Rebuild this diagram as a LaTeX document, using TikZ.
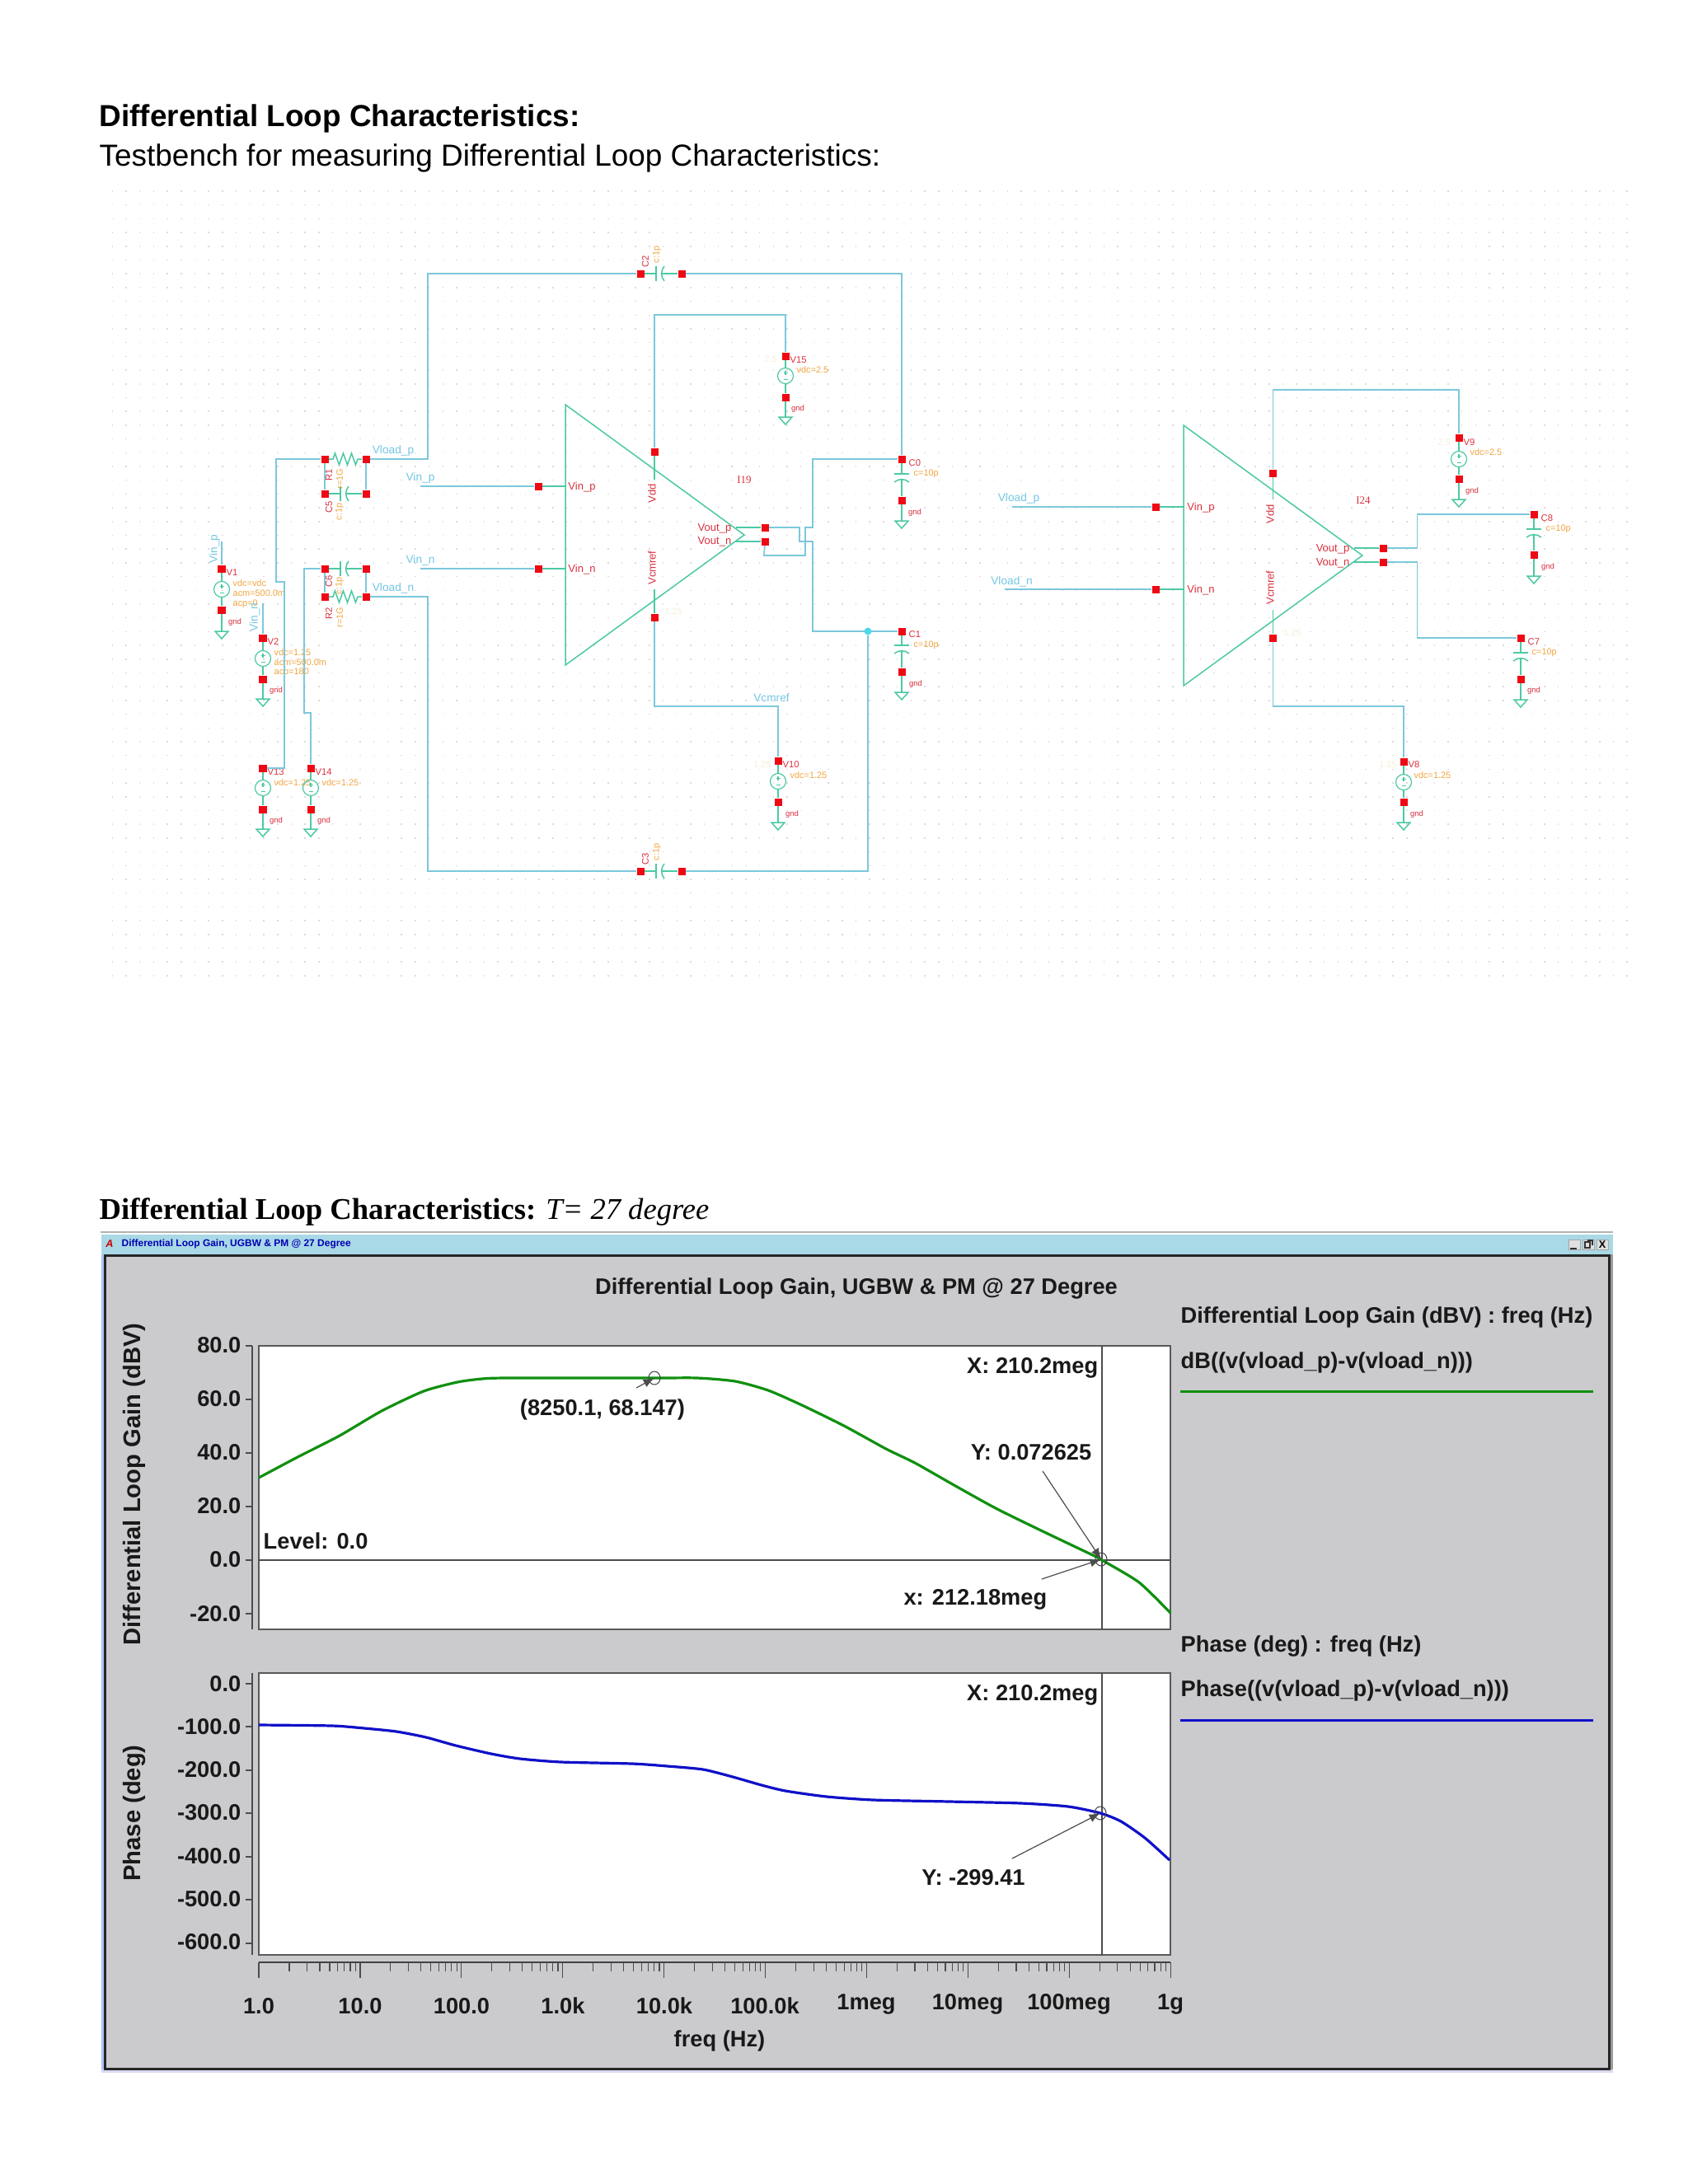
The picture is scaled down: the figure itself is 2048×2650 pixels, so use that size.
\documentclass[tikz,border=0pt]{standalone}
\usepackage{fontspec}
\setmainfont{Liberation Sans}
\newfontfamily\timesfont{Liberation Serif}
\definecolor{wirecol}{HTML}{7CC8DC}
\definecolor{partcol}{HTML}{4CC9A4}
\definecolor{pincol}{HTML}{EE0A14}
\definecolor{namecol}{HTML}{D9303F}
\definecolor{valcol}{HTML}{F2A640}
\definecolor{netcol}{HTML}{74C6E4}
\definecolor{opcol}{HTML}{F6F0DA}
\definecolor{barcol}{HTML}{A9D8E6}
\definecolor{panelcol}{HTML}{CBCACD}
\definecolor{gaincol}{HTML}{109010}
\definecolor{phasecol}{HTML}{1010C8}
\tikzset{
	wire/.style={wirecol, line width=0.017cm},
	part/.style={partcol, line width=0.015cm},
	griddots/.style={black!14, line width=0.015cm, dash pattern=on 0.015cm off 0.152cm},
	pinbox/.style={rectangle, fill=pincol, minimum size=0.09cm, inner sep=0pt},
	srcnode/.style={circle, draw=partcol, line width=0.12mm, minimum size=0.19cm, inner sep=0pt},
	netlbl/.style={netcol, font=\fontsize{3.9}{4}\selectfont, inner sep=0pt},
	pinlbl/.style={namecol, font=\fontsize{3.7}{4}\selectfont, inner sep=0pt},
	namelbl/.style={namecol, font=\fontsize{3.2}{4}\selectfont, inner sep=0pt},
	vallbl/.style={valcol, font=\fontsize{3.1}{4}\selectfont, inner sep=0pt},
	gndlbl/.style={namecol, font=\fontsize{2.7}{3}\selectfont, inner sep=0pt},
	oplbl/.style={opcol, font=\fontsize{3.1}{4}\selectfont, inner sep=0pt},
	headlbl/.style={anchor=west, inner sep=0pt, font=\fontsize{10.5}{12}\selectfont},
	plotlbl/.style={font=\fontsize{7.75}{9}\bfseries\selectfont, inner sep=0pt, text=black!90},
	ticklbl/.style={plotlbl, anchor=east},
	axislbl/.style={font=\fontsize{8.3}{9}\bfseries\selectfont, inner sep=0pt, text=black!90, rotate=90},
	plotframe/.style={draw=black!65, line width=0.02cm, fill=white},
	thinline/.style={black!70, line width=0.012cm},
	marker/.style={ellipse, draw=black!75, line width=0.01cm, minimum width=0.14cm, minimum height=0.16cm, inner sep=0pt},
	btnbox/.style={rectangle, fill=black!12, draw=black!35, line width=0.01cm, minimum width=0.14cm, minimum height=0.12cm, inner sep=0pt},
}
\usetikzlibrary{shapes.geometric}
\newcommand{\srcsym}[3]{
	\node[srcnode] (#1) at (#2,#3) {};
	\draw[part] (#1) ++(-2.5,-3.5) -- ++(5,0) ++(-2.5,-2.5) -- ++(0,5) (#1) ++(-2.5,4.5) -- ++(5,0);
}
\newcommand{\gndsym}[3]{
	\coordinate (#1) at (#2,#3);
	\draw[part] (#1) ++(-8,0) -- ++(16,0) -- ++(-8,9) -- cycle;
}
\newcommand{\capv}[3]{
	\coordinate (#1top) at (#2,#3);
	\coordinate (#1bot) at (#2,#3+7);
	\draw[part] (#1top) ++(-9,0) -- ++(18,0);
	\draw[part] (#1top) ++(-9,10) to[bend left=40] ++(18,0);
}
\newcommand{\caph}[3]{
	\coordinate (#1top) at (#2,#3);
	\coordinate (#1bot) at (#2+7,#3);
	\draw[part] (#1top) ++(0,-9) -- ++(0,18);
	\draw[part] (#1top) ++(10,9) to[bend left=40] ++(0,-18);
}
\newcommand{\zigpart}{-- ++(10,0) -- ++(2.5,-7) -- ++(5,14) -- ++(5,-14) -- ++(5,14) -- ++(5,-14) -- ++(5,14) -- ++(2.5,-7)}
\begin{document}
\begin{tikzpicture}[x=0.01cm,y=-0.01cm]
	\useasboundingbox (0,0) rectangle (2048,2650);
	\fill[white] (0,0) rectangle (2048,2650);

	\node[headlbl, font=\fontsize{10.5}{12}\bfseries\selectfont] (title1) at (120,144) {Differential Loop Characteristics:};
	\node[headlbl] (title2) at (120,192) {Testbench for measuring Differential Loop Characteristics:};
	\node[headlbl, font=\fontsize{10.4}{12}\timesfont\selectfont] (title3) at (120,1470) {\textbf{Differential Loop Characteristics:} \textit{T= 27 degree}};

	\foreach \row in {0,...,57}
		\draw[griddots] (135.5,232+\row*16.7) -- (1975,232+\row*16.7);

	\node[pinbox] (r1a) at (394,557) {};
	\node[pinbox] (r1b) at (444,557) {};
	\node[pinbox] (c5a) at (394,599) {};
	\node[pinbox] (c5b) at (444,599) {};
	\node[pinbox] (c6a) at (394,690) {};
	\node[pinbox] (c6b) at (444,690) {};
	\node[pinbox] (r2a) at (394,724) {};
	\node[pinbox] (r2b) at (444,724) {};
	\draw[part] (r1a) \zigpart -- (r1b);
	\draw[part] (r2a) \zigpart -- (r2b);
	\caph{c5}{413}{599}
	\caph{c6}{413}{690}
	\draw[part] (c5a) -- (c5top);
	\draw[part] (c5bot) -- (c5b);
	\draw[part] (c6a) -- (c6top);
	\draw[part] (c6bot) -- (c6b);
	\draw[wire] (r1a) -- (c5a);
	\draw[wire] (r1b) -- (c5b);
	\draw[wire] (c6a) -- (r2a);
	\draw[wire] (c6b) -- (r2b);
	\node[namelbl, rotate=90] (r1name) at (399,576) {R1};
	\node[vallbl, rotate=90] (r1val) at (412,581) {r=1G};
	\node[namelbl, rotate=90] (c5name) at (399,615) {C5};
	\node[vallbl, rotate=90] (c5val) at (412,621) {c:1p};
	\node[namelbl, rotate=90] (c6name) at (399,705) {C6};
	\node[vallbl, rotate=90] (c6val) at (412,711) {c:1p};
	\node[namelbl, rotate=90] (r2name) at (399,744) {R2};
	\node[vallbl, rotate=90] (r2val) at (412,749) {r=1G};
	\node[netlbl] (vloadp) at (477,547) {Vload\_p};
	\node[netlbl] (vloadn) at (477,714) {Vload\_n};

	\node[pinbox] (v1a) at (269,690) {};
	\node[pinbox] (v1b) at (269,740) {};
	\coordinate (v1stub) at (269,657);
	\srcsym{v1s}{269}{715}
	\gndsym{v1g}{269}{766}
	\draw[wire] (v1stub) -- (v1a);
	\draw[part] (v1a) -- (v1s);
	\draw[part] (v1s) -- (v1b);
	\draw[part] (v1b) -- (v1g);
	\node[netlbl, rotate=90] (v1net) at (260,666) {Vin\_p};
	\node[namelbl, anchor=west] (v1name) at (274,695) {V1};
	\node[vallbl, anchor=west] (v1vdc) at (282,708) {vdc=vdc};
	\node[vallbl, anchor=west] (v1acm) at (282,720) {acm=500.0m};
	\node[vallbl, anchor=west] (v1acp) at (282,733) {acp=0};
	\node[gndlbl] (v1gnd) at (285,755) {gnd};

	\node[pinbox] (v2a) at (319,774) {};
	\node[pinbox] (v2b) at (319,824) {};
	\coordinate (v2stub) at (319,732);
	\srcsym{v2s}{319}{799}
	\gndsym{v2g}{319}{848}
	\draw[wire] (v2stub) -- (v2a);
	\draw[part] (v2a) -- (v2s);
	\draw[part] (v2s) -- (v2b);
	\draw[part] (v2b) -- (v2g);
	\node[netlbl, rotate=90] (v2net) at (309,749) {Vin\_n};
	\node[namelbl, anchor=west] (v2name) at (324,779) {V2};
	\node[vallbl, anchor=west] (v2vdc) at (332,792) {vdc=1.25};
	\node[vallbl, anchor=west] (v2acm) at (332,804) {acm=500.0m};
	\node[vallbl, anchor=west] (v2acp) at (332,816) {acp=180};
	\node[gndlbl] (v2gnd) at (335,838) {gnd};

	\node[pinbox] (v13a) at (319,932) {};
	\node[pinbox] (v13b) at (319,982) {};
	\srcsym{v13s}{319}{956}
	\gndsym{v13g}{319}{1006}
	\draw[part] (v13a) -- (v13s);
	\draw[part] (v13s) -- (v13b);
	\draw[part] (v13b) -- (v13g);
	\node[namelbl, anchor=west] (v13name) at (324,937) {V13};
	\node[vallbl, anchor=west] (v13vdc) at (332,950) {vdc=1.25};
	\node[gndlbl] (v13gnd) at (335,996) {gnd};

	\node[pinbox] (v14a) at (377,932) {};
	\node[pinbox] (v14b) at (377,982) {};
	\srcsym{v14s}{377}{956}
	\gndsym{v14g}{377}{1006}
	\draw[part] (v14a) -- (v14s);
	\draw[part] (v14s) -- (v14b);
	\draw[part] (v14b) -- (v14g);
	\node[namelbl, anchor=west] (v14name) at (382,937) {V14};
	\node[vallbl, anchor=west] (v14vdc) at (390,950) {vdc=1.25};
	\node[gndlbl] (v14gnd) at (393,996) {gnd};

	\draw[wire] (r1a) -- (335,557) -- (335,706) -- (345,706) -- (345,932) -- (v13a);
	\draw[wire] (c6a) -- (369,690) -- (369,865) -- (377,865) -- (v14a);

	\draw[part] (686,491) -- (903,649) -- (686,807) -- cycle;
	\node[pinbox] (vinp) at (653,590) {};
	\node[pinbox] (vinn) at (653,690) {};
	\node[pinbox] (vdd) at (794,548) {};
	\node[pinbox] (vcm) at (794,749) {};
	\node[pinbox] (voutp) at (928,640) {};
	\node[pinbox] (voutn) at (928,657) {};
	\coordinate (vinpw) at (510,590);
	\coordinate (vinnw) at (510,690);
	\draw[wire] (vinpw) -- (vinp);
	\draw[wire] (vinnw) -- (vinn);
	\draw[part] (vinp) -- (686,590);
	\draw[part] (vinn) -- (686,690);
	\draw[part] (vdd) -- (794,582);
	\draw[part] (vcm) -- (794,715);
	\draw[part] (voutp) -- (893,640);
	\draw[part] (voutn) -- (893,657);
	\node[netlbl] (vinpnet) at (510,580) {Vin\_p};
	\node[netlbl] (vinnnet) at (510,680) {Vin\_n};
	\node[pinlbl] (vinplbl) at (706,591) {Vin\_p};
	\node[pinlbl] (vinnlbl) at (706,691) {Vin\_n};
	\node[pinlbl, rotate=90] (vddlbl) at (791,599) {Vdd};
	\node[pinlbl, rotate=90] (vcmlbl) at (791,689) {Vcmref};
	\node[pinlbl] (voutplbl) at (867,641) {Vout\_p};
	\node[pinlbl] (voutnlbl) at (867,657) {Vout\_n};
	\node[pinlbl, font=\fontsize{3.7}{4}\timesfont\selectfont] (i19) at (903,582) {I19};
	\node[oplbl] (vcmop) at (817,742) {1.25};

	\node[pinbox] (v15a) at (953,432) {};
	\node[pinbox] (v15b) at (953,482) {};
	\srcsym{v15s}{953}{456}
	\gndsym{v15g}{953}{506}
	\draw[wire] (vdd) -- (794,382) -- (953,382) -- (v15a);
	\draw[part] (v15a) -- (v15s);
	\draw[part] (v15s) -- (v15b);
	\draw[part] (v15b) -- (v15g);
	\node[namelbl, anchor=west] (v15name) at (958,437) {V15};
	\node[vallbl, anchor=west] (v15vdc) at (966,449) {vdc=2.5};
	\node[gndlbl] (v15gnd) at (968,496) {gnd};
	\node[oplbl] (v15op) at (935,436) {2.5};

	\node[pinbox] (v10a) at (944,923) {};
	\node[pinbox] (v10b) at (944,973) {};
	\srcsym{v10s}{944}{948}
	\gndsym{v10g}{944}{998}
	\draw[wire] (vcm) -- (794,857) -- (944,857) -- (v10a);
	\draw[part] (v10a) -- (v10s);
	\draw[part] (v10s) -- (v10b);
	\draw[part] (v10b) -- (v10g);
	\node[netlbl] (vcmnet) at (936,847) {Vcmref};
	\node[namelbl, anchor=west] (v10name) at (949,928) {V10};
	\node[vallbl, anchor=west] (v10vdc) at (958,941) {vdc=1.25};
	\node[gndlbl] (v10gnd) at (961,988) {gnd};
	\node[oplbl] (v10op) at (925,928) {1.25};

	\node[pinbox] (c0a) at (1094,557) {};
	\node[pinbox] (c0c) at (1094,607) {};
	\capv{c0}{1094}{575}
	\gndsym{c0g}{1094}{632}
	\draw[part] (c0a) -- (c0top);
	\draw[part] (c0bot) -- (c0c);
	\draw[part] (c0c) -- (c0g);
	\node[namelbl, anchor=west] (c0name) at (1102,562) {C0};
	\node[vallbl, anchor=west] (c0val) at (1108,575) {c=10p};
	\node[gndlbl] (c0gnd) at (1110,622) {gnd};

	\node[pinbox] (c1a) at (1094,766) {};
	\node[pinbox] (c1c) at (1094,815) {};
	\capv{c1}{1094}{783}
	\gndsym{c1g}{1094}{840}
	\draw[part] (c1a) -- (c1top);
	\draw[part] (c1bot) -- (c1c);
	\draw[part] (c1c) -- (c1g);
	\node[namelbl, anchor=west] (c1name) at (1102,770) {C1};
	\node[vallbl, anchor=west] (c1val) at (1108,783) {c=10p};
	\node[gndlbl] (c1gnd) at (1111,830) {gnd};

	\draw[wire] (voutn) -- (927,674) -- (977,674) -- (977,640) -- (986,640) -- (986,557) -- (c0a);
	\draw[wire] (voutp) -- (970,640) -- (970,657) -- (986,657) -- (986,766) -- (c1a);

	\node[pinbox] (c2a) at (777,332) {};
	\node[pinbox] (c2b) at (827,332) {};
	\caph{c2}{796}{332}
	\draw[part] (c2a) -- (c2top);
	\draw[part] (c2bot) -- (c2b);
	\draw[wire] (r1b) -- (519,557) -- (519,332) -- (c2a);
	\draw[wire] (c2b) -- (1094,332) -- (c0a);
	\node[namelbl, rotate=90] (c2name) at (783,317) {C2};
	\node[vallbl, rotate=90] (c2val) at (797,309) {c:1p};

	\node[pinbox] (c3a) at (777,1057) {};
	\node[pinbox] (c3b) at (827,1057) {};
	\caph{c3}{796}{1057}
	\draw[part] (c3a) -- (c3top);
	\draw[part] (c3bot) -- (c3b);
	\node[circle, fill=netcol!70!cyan, minimum size=0.09cm, inner sep=0pt] (jn) at (1053,766) {};
	\draw[wire] (r2b) -- (519,724) -- (519,1057) -- (c3a);
	\draw[wire] (c3b) -- (1053,1057) -- (jn);
	\node[namelbl, rotate=90] (c3name) at (783,1042) {C3};
	\node[vallbl, rotate=90] (c3val) at (797,1034) {c:1p};

	\draw[part] (1436,516) -- (1653,674) -- (1436,832) -- cycle;
	\node[pinbox] (rvinp) at (1402,615) {};
	\node[pinbox] (rvinn) at (1402,715) {};
	\node[pinbox] (rvdd) at (1544.5,574) {};
	\node[pinbox] (rvcm) at (1544.5,774) {};
	\node[pinbox] (rvoutp) at (1678,665) {};
	\node[pinbox] (rvoutn) at (1678,682) {};
	\coordinate (rvinpw) at (1227.5,615);
	\coordinate (rvinnw) at (1219,715);
	\draw[wire] (rvinpw) -- (rvinp);
	\draw[wire] (rvinnw) -- (rvinn);
	\draw[part] (rvinp) -- (1436,615);
	\draw[part] (rvinn) -- (1436,715);
	\draw[part] (rvdd) -- (1544.5,606);
	\draw[part] (rvcm) -- (1544.5,740);
	\draw[part] (rvoutp) -- (1643,665);
	\draw[part] (rvoutn) -- (1643,682);
	\node[netlbl] (rvloadp) at (1236,605) {Vload\_p};
	\node[netlbl] (rvloadn) at (1227.5,706) {Vload\_n};
	\node[pinlbl] (rvinplbl) at (1457,616) {Vin\_p};
	\node[pinlbl] (rvinnlbl) at (1457,716) {Vin\_n};
	\node[pinlbl, rotate=90] (rvddlbl) at (1541,624) {Vdd};
	\node[pinlbl, rotate=90] (rvcmlbl) at (1541,713) {Vcmref};
	\node[pinlbl] (rvoutplbl) at (1617,666) {Vout\_p};
	\node[pinlbl] (rvoutnlbl) at (1617,683) {Vout\_n};
	\node[pinlbl, font=\fontsize{3.7}{4}\timesfont\selectfont] (i24) at (1654,607) {I24};
	\node[oplbl] (rvcmop) at (1568,768) {1.25};

	\node[pinbox] (v9a) at (1770,531) {};
	\node[pinbox] (v9b) at (1770,581) {};
	\srcsym{v9s}{1770}{557}
	\gndsym{v9g}{1770}{606}
	\draw[wire] (rvdd) -- (1544.5,473) -- (1770,473) -- (v9a);
	\draw[part] (v9a) -- (v9s);
	\draw[part] (v9s) -- (v9b);
	\draw[part] (v9b) -- (v9g);
	\node[namelbl, anchor=west] (v9name) at (1775,537) {V9};
	\node[vallbl, anchor=west] (v9vdc) at (1783,549) {vdc=2.5};
	\node[gndlbl] (v9gnd) at (1786,596) {gnd};
	\node[oplbl] (v9op) at (1752,537) {2.5};

	\node[pinbox] (v8a) at (1703,924) {};
	\node[pinbox] (v8b) at (1703,973) {};
	\srcsym{v8s}{1703}{949}
	\gndsym{v8g}{1703}{998}
	\draw[wire] (rvcm) -- (1544.5,857) -- (1703,857) -- (v8a);
	\draw[part] (v8a) -- (v8s);
	\draw[part] (v8s) -- (v8b);
	\draw[part] (v8b) -- (v8g);
	\node[namelbl, anchor=west] (v8name) at (1708,928) {V8};
	\node[vallbl, anchor=west] (v8vdc) at (1715,941) {vdc=1.25};
	\node[gndlbl] (v8gnd) at (1719,988) {gnd};
	\node[oplbl] (v8op) at (1684,928) {1.25};

	\node[pinbox] (c8a) at (1861,624) {};
	\node[pinbox] (c8c) at (1861,673) {};
	\capv{c8}{1861}{642}
	\gndsym{c8g}{1861}{699}
	\draw[part] (c8a) -- (c8top);
	\draw[part] (c8bot) -- (c8c);
	\draw[part] (c8c) -- (c8g);
	\draw[wire] (rvoutp) -- (1719.5,665) -- (1719.5,624) -- (c8a);
	\node[namelbl, anchor=west] (c8name) at (1869,629) {C8};
	\node[vallbl, anchor=west] (c8val) at (1875,642) {c=10p};
	\node[gndlbl] (c8gnd) at (1878,688) {gnd};

	\node[pinbox] (c7a) at (1845,774) {};
	\node[pinbox] (c7c) at (1845,824) {};
	\capv{c7}{1845}{792}
	\gndsym{c7g}{1845}{849}
	\draw[part] (c7a) -- (c7top);
	\draw[part] (c7bot) -- (c7c);
	\draw[part] (c7c) -- (c7g);
	\draw[wire] (rvoutn) -- (1719.5,682) -- (1719.5,774) -- (c7a);
	\node[namelbl, anchor=west] (c7name) at (1853,779) {C7};
	\node[vallbl, anchor=west] (c7val) at (1858,792) {c=10p};
	\node[gndlbl] (c7gnd) at (1861,838) {gnd};

	\draw[black!30, line width=0.012cm] (122,1495) -- (1957,1495);
	\fill[barcol] (123,1498) rectangle (1957,1522);
	\fill[barcol!70!blue!60] (123,1522) rectangle (126,2513);
	\fill[black!40] (1952,1522) rectangle (1957,2515);
	\fill[black!35!blue!15!white] (123,2511) rectangle (1957,2515);
	\draw[black!85, line width=0.03cm, fill=panelcol] (127,1523) rectangle (1952,2510);
	\node[font=\fontsize{3.6}{4}\bfseries\itshape\selectfont, text=red!80!black, inner sep=0pt] (appicon) at (133,1509) {A};
	\node[font=\fontsize{3.4}{4}\bfseries\selectfont, text=blue!70!black, anchor=west, inner sep=0pt] (wintitle) at (147,1509) {Differential Loop Gain, UGBW \& PM @ 27 Degree};
	\node[btnbox] (btnmin) at (1910,1510) {};
	\node[btnbox] (btnmax) at (1927,1510) {};
	\node[btnbox, font=\fontsize{3.6}{4}\bfseries\selectfont] (btnclose) at (1944,1510) {X};
	\draw[black!80, line width=0.02cm] (1905,1514.5) -- (1913,1514.5);
	\draw[black!80, line width=0.012cm] (1923,1507) rectangle (1929,1514);
	\draw[black!80, line width=0.012cm] (1926,1505) -- (1932,1505) -- (1932,1511);

	\node[plotlbl] (maintitle) at (1039,1563) {Differential Loop Gain, UGBW \& PM @ 27 Degree};
	\node[axislbl] (ylabtop) at (163,1801) {Differential Loop Gain (dBV)};
	\node[axislbl] (ylabbot) at (163,2200) {Phase (deg)};

	\draw[plotframe] (314,1633) rectangle (1420,1977);
	\draw[plotframe] (314,2030) rectangle (1420,2372);
	\draw[thinline] (306,1633) -- (306,1977);
	\draw[thinline] (306,2030) -- (306,2372);
	\draw[thinline] (314,1893) -- (1420,1893);
	\draw[thinline] (1337,1633) -- (1337,1977);
	\draw[thinline] (1337,2030) -- (1337,2372);

	\draw[thinline] (298,1633) -- (306,1633);
	\draw[thinline] (298,1698) -- (306,1698);
	\draw[thinline] (298,1763) -- (306,1763);
	\draw[thinline] (298,1828) -- (306,1828);
	\draw[thinline] (298,1893) -- (306,1893);
	\draw[thinline] (298,1958) -- (306,1958);
	\node[ticklbl] (y80) at (293,1632) {80.0};
	\node[ticklbl] (y60) at (293,1697) {60.0};
	\node[ticklbl] (y40) at (293,1762) {40.0};
	\node[ticklbl] (y20) at (293,1827) {20.0};
	\node[ticklbl] (y0) at (293,1892) {0.0};
	\node[ticklbl] (ym20) at (293,1958) {-20.0};

	\draw[thinline] (298,2043) -- (306,2043);
	\draw[thinline] (298,2095) -- (306,2095);
	\draw[thinline] (298,2148) -- (306,2148);
	\draw[thinline] (298,2200) -- (306,2200);
	\draw[thinline] (298,2253) -- (306,2253);
	\draw[thinline] (298,2305) -- (306,2305);
	\draw[thinline] (298,2358) -- (306,2358);
	\node[ticklbl] (p0) at (293,2043) {0.0};
	\node[ticklbl] (p100) at (293,2095) {-100.0};
	\node[ticklbl] (p200) at (293,2147) {-200.0};
	\node[ticklbl] (p300) at (293,2199) {-300.0};
	\node[ticklbl] (p400) at (293,2252) {-400.0};
	\node[ticklbl] (p500) at (293,2304) {-500.0};
	\node[ticklbl] (p600) at (293,2356) {-600.0};

	\draw[black!75, line width=0.025cm] (314,2381) -- (1420,2381);
	\foreach \dec in {0,...,9}{
		\pgfmathsetmacro{\tx}{314+\dec*122.9}
		\draw[thinline] (\tx,2381) -- (\tx,2400);
	}
	\foreach \dec in {0,...,8}
		\foreach \sub in {0.301,0.477,0.602,0.699,0.778,0.845,0.903,0.954}{
			\pgfmathsetmacro{\tx}{314+(\dec+\sub)*122.9}
			\draw[thinline] (\tx,2381) -- (\tx,2392);
		}
	\node[plotlbl] (x0) at (314,2434) {1.0};
	\node[plotlbl] (x1) at (437,2434) {10.0};
	\node[plotlbl] (x2) at (560,2434) {100.0};
	\node[plotlbl] (x3) at (683,2434) {1.0k};
	\node[plotlbl] (x4) at (806,2434) {10.0k};
	\node[plotlbl] (x5) at (928,2434) {100.0k};
	\node[plotlbl] (x6) at (1051,2432) {1meg};
	\node[plotlbl] (x7) at (1174,2432) {10meg};
	\node[plotlbl] (x8) at (1297,2432) {100meg};
	\node[plotlbl] (x9) at (1420,2432) {1g};
	\node[plotlbl] (xlab) at (873,2476) {freq (Hz)};

	\draw[gaincol, line width=0.032cm] plot[smooth, tension=0.4] coordinates {(314,1793) (361,1768) (412,1742) (463,1712) (514,1688) (555,1677) (585,1673) (616,1672) (795,1672) (846,1672) (892,1676) (932,1687) (973,1705) (1024,1730) (1075,1758) (1110,1775) (1154,1800) (1208,1830) (1263,1857) (1328,1888) (1337,1893) (1382,1920) (1420,1957)};
	\draw[phasecol, line width=0.032cm] plot[smooth, tension=0.4] coordinates {(314,2093) (403,2094) (442,2097) (481,2101) (517,2108) (553,2118) (596,2128) (631,2134) (681,2138) (767,2140) (810,2143) (853,2147) (889,2156) (924,2166) (953,2173) (1003,2180) (1060,2184) (1153,2186) (1239,2188) (1296,2192) (1335,2200) (1360,2210) (1389,2230) (1419,2257)};

	\node[marker] (mkmax) at (794,1672) {};
	\node[marker] (mkzero) at (1336,1892) {};
	\node[marker] (mkphase) at (1335,2200) {};
	\coordinate (mkmaxt) at (772,1684);
	\coordinate (mkyt) at (1265,1785);
	\coordinate (mkxt) at (1264,1916);
	\coordinate (mkpt) at (1228,2255);
	\draw[thinline, -latex] (mkmaxt) -- (mkmax.center);
	\draw[thinline, -latex] (mkyt) -- (mkzero.center);
	\draw[thinline, -latex] (mkxt) -- (mkzero.center);
	\draw[thinline, -latex] (mkpt) -- (mkphase.center);

	\node[plotlbl] (maxlbl) at (731,1710) {(8250.1, 68.147)};
	\node[plotlbl, anchor=west] (levellbl) at (319,1870) {Level: 0.0};
	\node[plotlbl, anchor=east] (xtop) at (1333,1660) {X: 210.2meg};
	\node[plotlbl, anchor=east] (ytop) at (1325,1762) {Y: 0.072625};
	\node[plotlbl, anchor=east] (xcross) at (1271,1941) {x: 212.18meg};
	\node[plotlbl, anchor=east] (xbot) at (1333,2057) {X: 210.2meg};
	\node[plotlbl] (ybot) at (1181,2278) {Y: -299.41};

	\node[plotlbl, anchor=west] (leg1) at (1432,1598) {Differential Loop Gain (dBV) : freq (Hz)};
	\node[plotlbl, anchor=west] (leg2) at (1432,1653) {dB((v(vload\_p)-v(vload\_n)))};
	\coordinate (leg2a) at (1432,1688);
	\coordinate (leg2b) at (1933,1688);
	\draw[gaincol, line width=0.03cm] (leg2a) -- (leg2b);
	\node[plotlbl, anchor=west] (leg3) at (1432,1997) {Phase (deg) : freq (Hz)};
	\node[plotlbl, anchor=west] (leg4) at (1432,2051) {Phase((v(vload\_p)-v(vload\_n)))};
	\coordinate (leg4a) at (1432,2087);
	\coordinate (leg4b) at (1933,2087);
	\draw[phasecol, line width=0.03cm] (leg4a) -- (leg4b);
\end{tikzpicture}
\end{document}
